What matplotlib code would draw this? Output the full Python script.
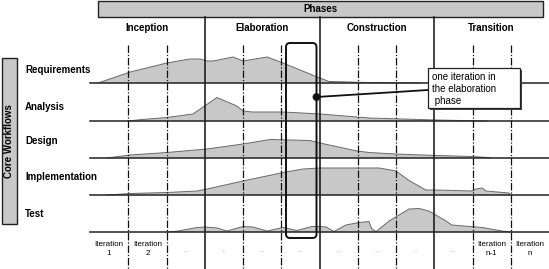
import numpy as np
import matplotlib.pyplot as plt
from matplotlib.patches import Rectangle, FancyBboxPatch, Circle

plt.rcParams['font.family'] = ['Liberation Sans', 'DejaVu Sans']

# phases and workflows
phases = ["Inception", "Elaboration", "Construction", "Transition"]
workflows = ["Requirements", "Analysis", "Design", "Implementation", "Test"]
iter_labels = ["Iteration\n1", "Iteration\n2", "...", "...", "...", "...", "...",
               "...", "...", "...", "Iteration\nn-1", "Iteration\nn"]

# effort curves: x in iterations (0..12), height = relative effort
req_x = [0.21, 1.05, 2.01, 2.61, 2.88, 3.06, 3.22, 3.74, 4.0, 4.63, 5.05, 5.49, 6.01, 6.25, 7.29, 8.63]
req_h = [0, 11, 20, 24, 24, 22, 22, 26, 22, 26, 20, 13, 5, 1.5, 0.5, 0]
ana_x = [1.0, 1.36, 2.01, 2.69, 3.32, 3.84, 4.0, 4.24, 5.05, 6.01, 7.29, 9.05, 10.38]
ana_h = [0, 1.5, 3.5, 7, 23.5, 15, 10, 9, 9, 7, 3, 1, 0]
des_x = [0.44, 1.05, 2.01, 3.06, 4.0, 4.71, 5.23, 5.75, 6.01, 6.98, 7.29, 8.0, 9.05, 9.99, 10.43, 10.48]
des_h = [0, 3, 5.5, 9, 14, 18.5, 18, 17.5, 15, 7, 5.5, 4, 2.5, 1.5, 0.5, 0]
imp_x = [0.44, 1.05, 2.01, 2.8, 3.06, 4.0, 5.05, 5.57, 6.01, 7.56, 8.0, 8.34, 8.78, 9.05,
         9.99, 10.09, 10.25, 10.35, 10.95, 11.01]
imp_h = [0, 1.5, 2.5, 4, 6, 14, 22.5, 26, 27, 27, 24, 14.5, 5, 5, 4, 6, 7, 4, 2, 0]
tst_x = [2.01, 2.3, 2.8, 3.01, 3.32, 3.58, 4.0, 4.26, 4.63, 5.05, 5.41, 5.80, 6.01, 6.17, 6.38,
         6.69, 7.03, 7.29, 7.37, 7.48, 7.82, 8.34, 8.6, 8.86, 9.31, 9.46, 10.25, 10.77, 11.03]
tst_h = [0, 1, 4.5, 5, 4, 1, 5.5, 5, 1, 4.5, 1.5, 5.5, 5.5, 5, 0.5,
         7, 9.5, 10.5, 3, 0.5, 11, 23, 23.5, 21, 11, 7, 4.5, 1, 0]
curves = [(req_x, req_h), (ana_x, ana_h), (des_x, des_h), (imp_x, imp_h), (tst_x, tst_h)]

# layout (pixels)
W, H = 549, 269
x0, step = 90, 38.25
baselines = [83, 121, 158, 195, 232]
label_y = [70, 107, 141, 177, 214]


def px(u):
    return x0 + np.asarray(u) * step


fig = plt.figure(figsize=(W / 100, H / 100), dpi=100)
ax = fig.add_axes([0, 0, 1, 1])
ax.set_xlim(0, W)
ax.set_ylim(H, 0)
ax.axis("off")

# phases header
ax.add_patch(Rectangle((98, 1), 445, 16, facecolor="#c8c8c8", edgecolor="#222", lw=1))
ax.text(320, 9, "Phases", ha="center", va="center", fontsize=7, fontweight="bold")
for i, p in enumerate(phases):
    ax.text(px(i * 3 + 1.5), 28, p, ha="center", va="center", fontsize=7, fontweight="bold")

# core workflows box
ax.add_patch(Rectangle((2, 58), 15, 166, facecolor="#c8c8c8", edgecolor="#222", lw=1))
ax.text(9.5, 141, "Core Workflows", rotation=90, ha="center", va="center",
        fontsize=7, fontweight="bold")

# curves
for (cx, ch), b in zip(curves, baselines):
    xs = px(cx)
    ys = b - np.asarray(ch)
    ax.fill_between(xs, ys, b, facecolor="#c8c8c8", edgecolor="none", zorder=2)
    ax.plot(xs, ys, color="#6a6a6a", lw=0.7, zorder=3)

# grid lines
for k in range(1, 12):
    if k % 3 == 0:
        ax.plot([px(k)] * 2, [17, H], color="#111", lw=1.1, zorder=4)
    else:
        ax.plot([px(k)] * 2, [45, H], color="#111", lw=0.9, ls=(0, (6, 1.5, 1, 1.5)), zorder=4)
for b in baselines:
    ax.plot([x0, W], [b, b], color="#222", lw=1.1, zorder=4)

# row labels
for name, y in zip(workflows, label_y):
    ax.text(25, y, name, ha="left", va="center", fontsize=7, fontweight="bold")

# iteration labels
for i, lab in enumerate(iter_labels):
    if lab == "...":
        ax.text(px(i + 0.5), 251, lab, ha="center", va="center", fontsize=4.5, color="#888")
    else:
        ax.text(px(i + 0.5), 249, lab, ha="center", va="center", fontsize=5.8,
                linespacing=1.35)

# highlighted iteration
ax.add_patch(FancyBboxPatch((286, 43), 30.5, 195, boxstyle="round,pad=0,rounding_size=4",
                            facecolor="none", edgecolor="#111", lw=1.4, zorder=5))
ax.add_patch(Circle((316.5, 97), 3.2, color="#111", zorder=6))
ax.plot([316.5, 428], [97, 90], color="#111", lw=1.3, zorder=6)

# callout
ax.add_patch(Rectangle((430, 69.5), 92, 40.5, facecolor="#444", edgecolor="none", zorder=6))
ax.add_patch(Rectangle((428, 67.5), 92, 40.5, facecolor="white", edgecolor="#222", lw=0.9, zorder=7))
ax.text(432, 89, "one iteration in\nthe elaboration\n phase", ha="left", va="center",
        fontsize=7, linespacing=1.2, zorder=8)

fig.savefig("out.png", dpi=100)
